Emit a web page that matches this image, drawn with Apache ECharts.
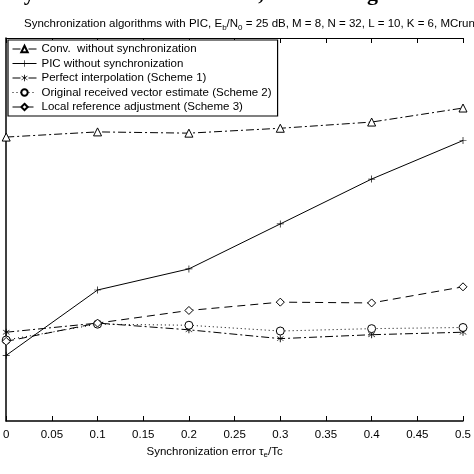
<!DOCTYPE html>
<html><head><meta charset="utf-8">
<script src="https://cdn.jsdelivr.net/npm/echarts@6/dist/echarts.min.js"></script>
<style>body{margin:0;background:#fff}#c{width:474px;height:474px}</style></head>
<body><div id="c"></div>
<script>
const xs = [0, 0.1, 0.2, 0.3, 0.4, 0.5];
const names = ['Conv.  without synchronization','PIC without synchronization','Perfect interpolation (Scheme 1)','Original received vector estimate (Scheme 2)','Local reference adjustment (Scheme 3)'];
const conv = [0.1, 0.108, 0.106, 0.114, 0.125, 0.154];
const pic = [0.0039, 0.0103, 0.0141, 0.0275, 0.0536, 0.095];
const perfect = [0.0055, 0.0063, 0.0057, 0.0050, 0.0053, 0.0055];
const orig = [0.0049, 0.0062, 0.0061, 0.0056, 0.0058, 0.0059];
const local = [0.0048, 0.0063, 0.0076, 0.0086, 0.0085, 0.0108];
const xTicks = ['0','0.05','0.1','0.15','0.2','0.25','0.3','0.35','0.4','0.45','0.5'];
const vals=[conv,pic,perfect,orig,local];
const dashes=[[8,3,2,3],'solid',[8,3,2,3],[1,3],[8,5]];
const symbols=['triangle','path://M-1,-10H1V-1H10V1H1V10H-1V1H-10V-1H-1Z','path://M-1,-10H1V-2L7,-7L8,-6L2,0L8,6L7,7L1,1V10H-1V1L-7,7L-8,6L-2,0L-8,-6L-7,-7L-1,-2Z','circle','diamond'];
const ch=echarts.init(document.getElementById('c'));
const series=vals.map((v,i)=>({name:names[i],type:'line',data:xs.map((x,j)=>[x,v[j]]),
 symbol:symbols[i],symbolSize:i===1||i===2?7:8,
 itemStyle:{color:(i===1||i===2)?'#000':'#fff',borderColor:'#000',borderWidth:(i===1||i===2)?0:1},
 lineStyle:{color:'#000',width:1,type:dashes[i]}}));
ch.setOption({
 animation:false,
 title:{text:'Synchronization algorithms with PIC, E{s|b}/N{s|0} = 25 dB, M = 8, N = 32, L = 10, K = 6, MCruns = 2000',left:19,top:11,
  textStyle:{fontSize:11.5,fontWeight:'normal',fontFamily:'Liberation Sans',color:'#000',rich:{s:{fontSize:8,verticalAlign:'bottom',padding:[8,0,0,0]}}}},
 graphic:[{type:'text',left:-24,top:-17,style:{text:'e of synchronization. However, considering',font:'bold 22px "Liberation Serif"',fill:'#000'}}],
 legend:{orient:'vertical',left:8,top:40,itemGap:2.5,itemWidth:24,itemHeight:8,padding:[3,6,3,4],
  borderColor:'#000',borderWidth:1.2,backgroundColor:'#fff',textStyle:{fontSize:11.5,fontFamily:'Liberation Sans',color:'#000'},
  lineStyle:{width:1},data:names},
 grid:{left:3,top:38,width:490,bottom:53},
 xAxis:[{type:'value',min:0,max:0.5,interval:0.05,
  axisLine:{lineStyle:{color:'#000',width:1.5}},axisTick:{inside:true,length:5,lineStyle:{color:'#000'}},splitLine:{show:false},
  axisLabel:{fontSize:11.5,fontFamily:'Liberation Sans',color:'#000',formatter:v=>xTicks[Math.round(v/0.05)]},
  name:'Synchronization error τ{s|e}/Tc',nameLocation:'middle',nameGap:14,
  nameTextStyle:{fontSize:11.5,fontFamily:'Liberation Sans',color:'#000',padding:[0,0,0,-40],rich:{s:{fontSize:8,verticalAlign:'top',padding:[6,0,0,0]}}}},
  {type:'value',position:'top',min:0,max:0.5,interval:0.05,axisLine:{lineStyle:{color:'#000',width:1.2}},axisTick:{inside:true,length:5,lineStyle:{color:'#000'}},axisLabel:{show:false},splitLine:{show:false}}],
 yAxis:{type:'log',min:0.00147,max:0.436,logBase:10,axisLabel:{show:false},
  axisLine:{show:true,lineStyle:{color:'#000',width:1.5}},axisTick:{show:false},splitLine:{show:false}},
 series
});
</script></body></html>
